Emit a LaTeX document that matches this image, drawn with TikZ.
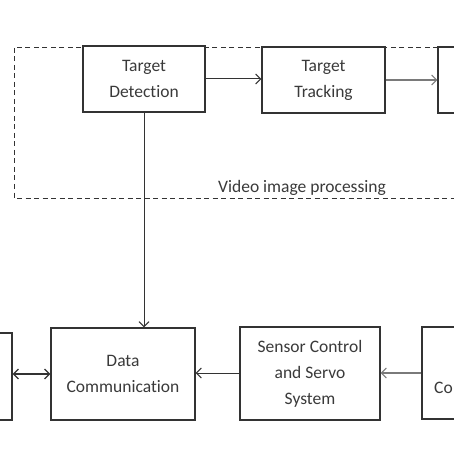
\documentclass[tikz,border=0pt]{standalone}
\usepackage{fontspec}
\setmainfont{Carlito}[Ligatures={NoCommon}]
\usetikzlibrary{arrows.meta}
\definecolor{ln}{HTML}{333333}
\definecolor{tx}{HTML}{3A3A3A}
\definecolor{gl}{HTML}{7A7A7A}
\begin{document}
\begin{tikzpicture}[x=1pt,y=-1pt,
  blk/.style={draw=ln,line width=1.2pt,fill=white,align=center,text=tx,
    font=\fontsize{17.5}{26}\selectfont,inner sep=0pt},
  arr/.style={draw=ln,line width=1pt,-{Straight Barb[length=5pt,width=10pt]}},
  garr/.style={draw=gl,line width=2pt,-{Straight Barb[length=5pt,width=10pt,line width=1pt]}}]
\useasboundingbox (0,0) rectangle (454,454);
\clip (0,0) rectangle (454,454);
\fill[white] (0,0) rectangle (454,454);
% dashed frame
\draw[ln,line width=1pt,dash pattern=on 5pt off 3.5pt] (14,48) rectangle (620,198);
\node[anchor=base west,text=tx,font=\fontsize{17.5}{20}\selectfont,inner sep=0pt] (vip) at (218,193) {Video image processing};
% top row
\node[blk,minimum width=122pt,minimum height=66pt] (td) at (144,79) {Target\\Detection};
\node[blk,minimum width=123pt,minimum height=66pt] (tt) at (323.5,80) {Target\\Tracking};
\node[blk,minimum width=123pt,minimum height=66pt] (tr) at (499.5,80) {};
% bottom row
\node[blk,minimum width=144pt,minimum height=92pt] (dc) at (123,374) {Data\\Communication};
\node[blk,minimum width=140pt,minimum height=93pt] (sc) at (310,373.5) {Sensor Control\\and Servo\\System};
\node[blk,minimum width=140pt,minimum height=92pt] (rb) at (492,373) {};
\node[blk,minimum width=140pt,minimum height=87pt] (lb) at (-58,376.5) {};
\node[anchor=base west,text=tx,font=\fontsize{17.5}{20}\selectfont,inner sep=0pt] (co) at (434,393) {Co};
% connectors
\draw[arr] (td.east |- 0,79) -- (tt.west |- 0,79);
\draw[garr] (tt.east) -- (tr.west);
\draw[arr] (td.south) -- (td.south |- dc.north);
\draw[arr] (sc.west |- 0,373) -- (dc.east |- 0,373);
\draw[garr] (rb.west |- 0,373) -- (sc.east |- 0,373);
\draw[ln,line width=1.2pt,{Straight Barb[length=5pt,width=10pt]}-{Straight Barb[length=5pt,width=10pt]}] (lb.east |- 0,374) -- (dc.west |- 0,374);
\end{tikzpicture}
\end{document}
